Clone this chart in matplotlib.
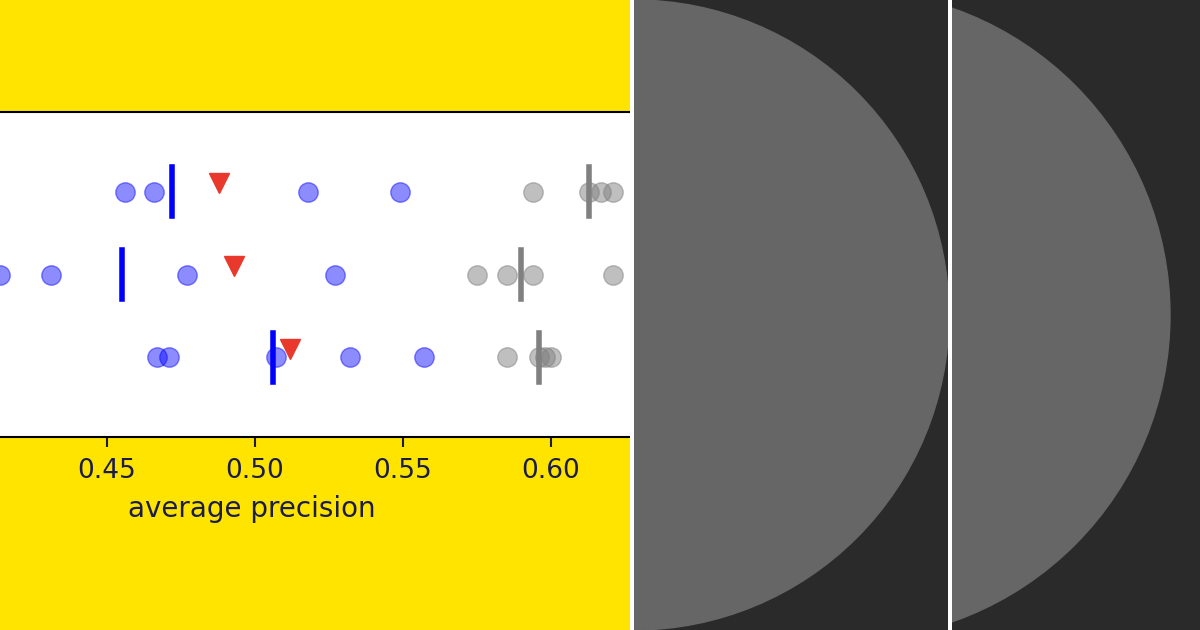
import matplotlib.pyplot as plt
from matplotlib.patches import Circle

rows = [0, 1, 2]
blue_pts = [[0.456, 0.466, 0.518, 0.549],
            [0.414, 0.431, 0.477, 0.527],
            [0.467, 0.471, 0.507, 0.532, 0.557]]
blue_mid = [0.472, 0.455, 0.506]
red_tri = [0.488, 0.493, 0.512]
grey_pts = [[0.594, 0.613, 0.617, 0.621],
            [0.575, 0.585, 0.594, 0.621],
            [0.585, 0.596, 0.598, 0.600]]
grey_mid = [0.613, 0.590, 0.596]
ticks = [0.45, 0.50, 0.55, 0.60]

W, H = 1200, 630
fig = plt.figure(figsize=(12, 6.3), dpi=100, facecolor='#ffe400')

ax = fig.add_axes([0, 1 - 437 / H, 630 / W, 325 / H])
for r in rows:
    ax.plot(blue_pts[r], [r] * len(blue_pts[r]), 'o', color='blue', alpha=0.45, markersize=14)
    ax.plot(grey_pts[r], [r] * len(grey_pts[r]), 'o', color='grey', alpha=0.5, markersize=14)
    ax.plot([blue_mid[r]] * 2, [r - 0.3, r + 0.3], color='blue', lw=4)
    ax.plot([grey_mid[r]] * 2, [r - 0.3, r + 0.3], color='grey', lw=4)
    ax.plot(red_tri[r], r - 0.1, 'v', color='#e8392c', markersize=14)
ax.set_xlim(0.4139, 0.6267)
ax.set_ylim(2.96, -0.96)
ax.set_yticks([])
ax.set_xticks(ticks)
ax.set_xticklabels([f'{t:.2f}' for t in ticks])
ax.tick_params(axis='x', labelsize=19, colors='#1c1c4a', length=7, width=1.5, pad=8)
ax.set_xlabel('average precision', fontsize=20, color='#1c1c4a', labelpad=8, x=0.4)
ax.spines['left'].set_visible(False)
ax.spines['right'].set_visible(False)
ax.spines['top'].set_linewidth(1.5)
ax.spines['bottom'].set_linewidth(1.5)

gap = fig.add_axes([630 / W, 0, 570 / W, 1])
gap.set_axis_off()
gap.add_patch(plt.Rectangle((0, 0), 1, 1, color='white', transform=gap.transAxes))

panels = [(634, 948, 634, 315), (952, 1200, 845, 325)]
for x0, x1, cx, rad in panels:
    p = fig.add_axes([x0 / W, 0, (x1 - x0) / W, 1])
    p.set_xlim(x0, x1)
    p.set_ylim(H, 0)
    p.set_facecolor('#2a2a2a')
    p.add_patch(Circle((cx, 315), rad, color='#666666'))
    p.set_xticks([])
    p.set_yticks([])
    for s in p.spines.values():
        s.set_visible(False)

fig.savefig('out.png', dpi=100, facecolor=fig.get_facecolor())
